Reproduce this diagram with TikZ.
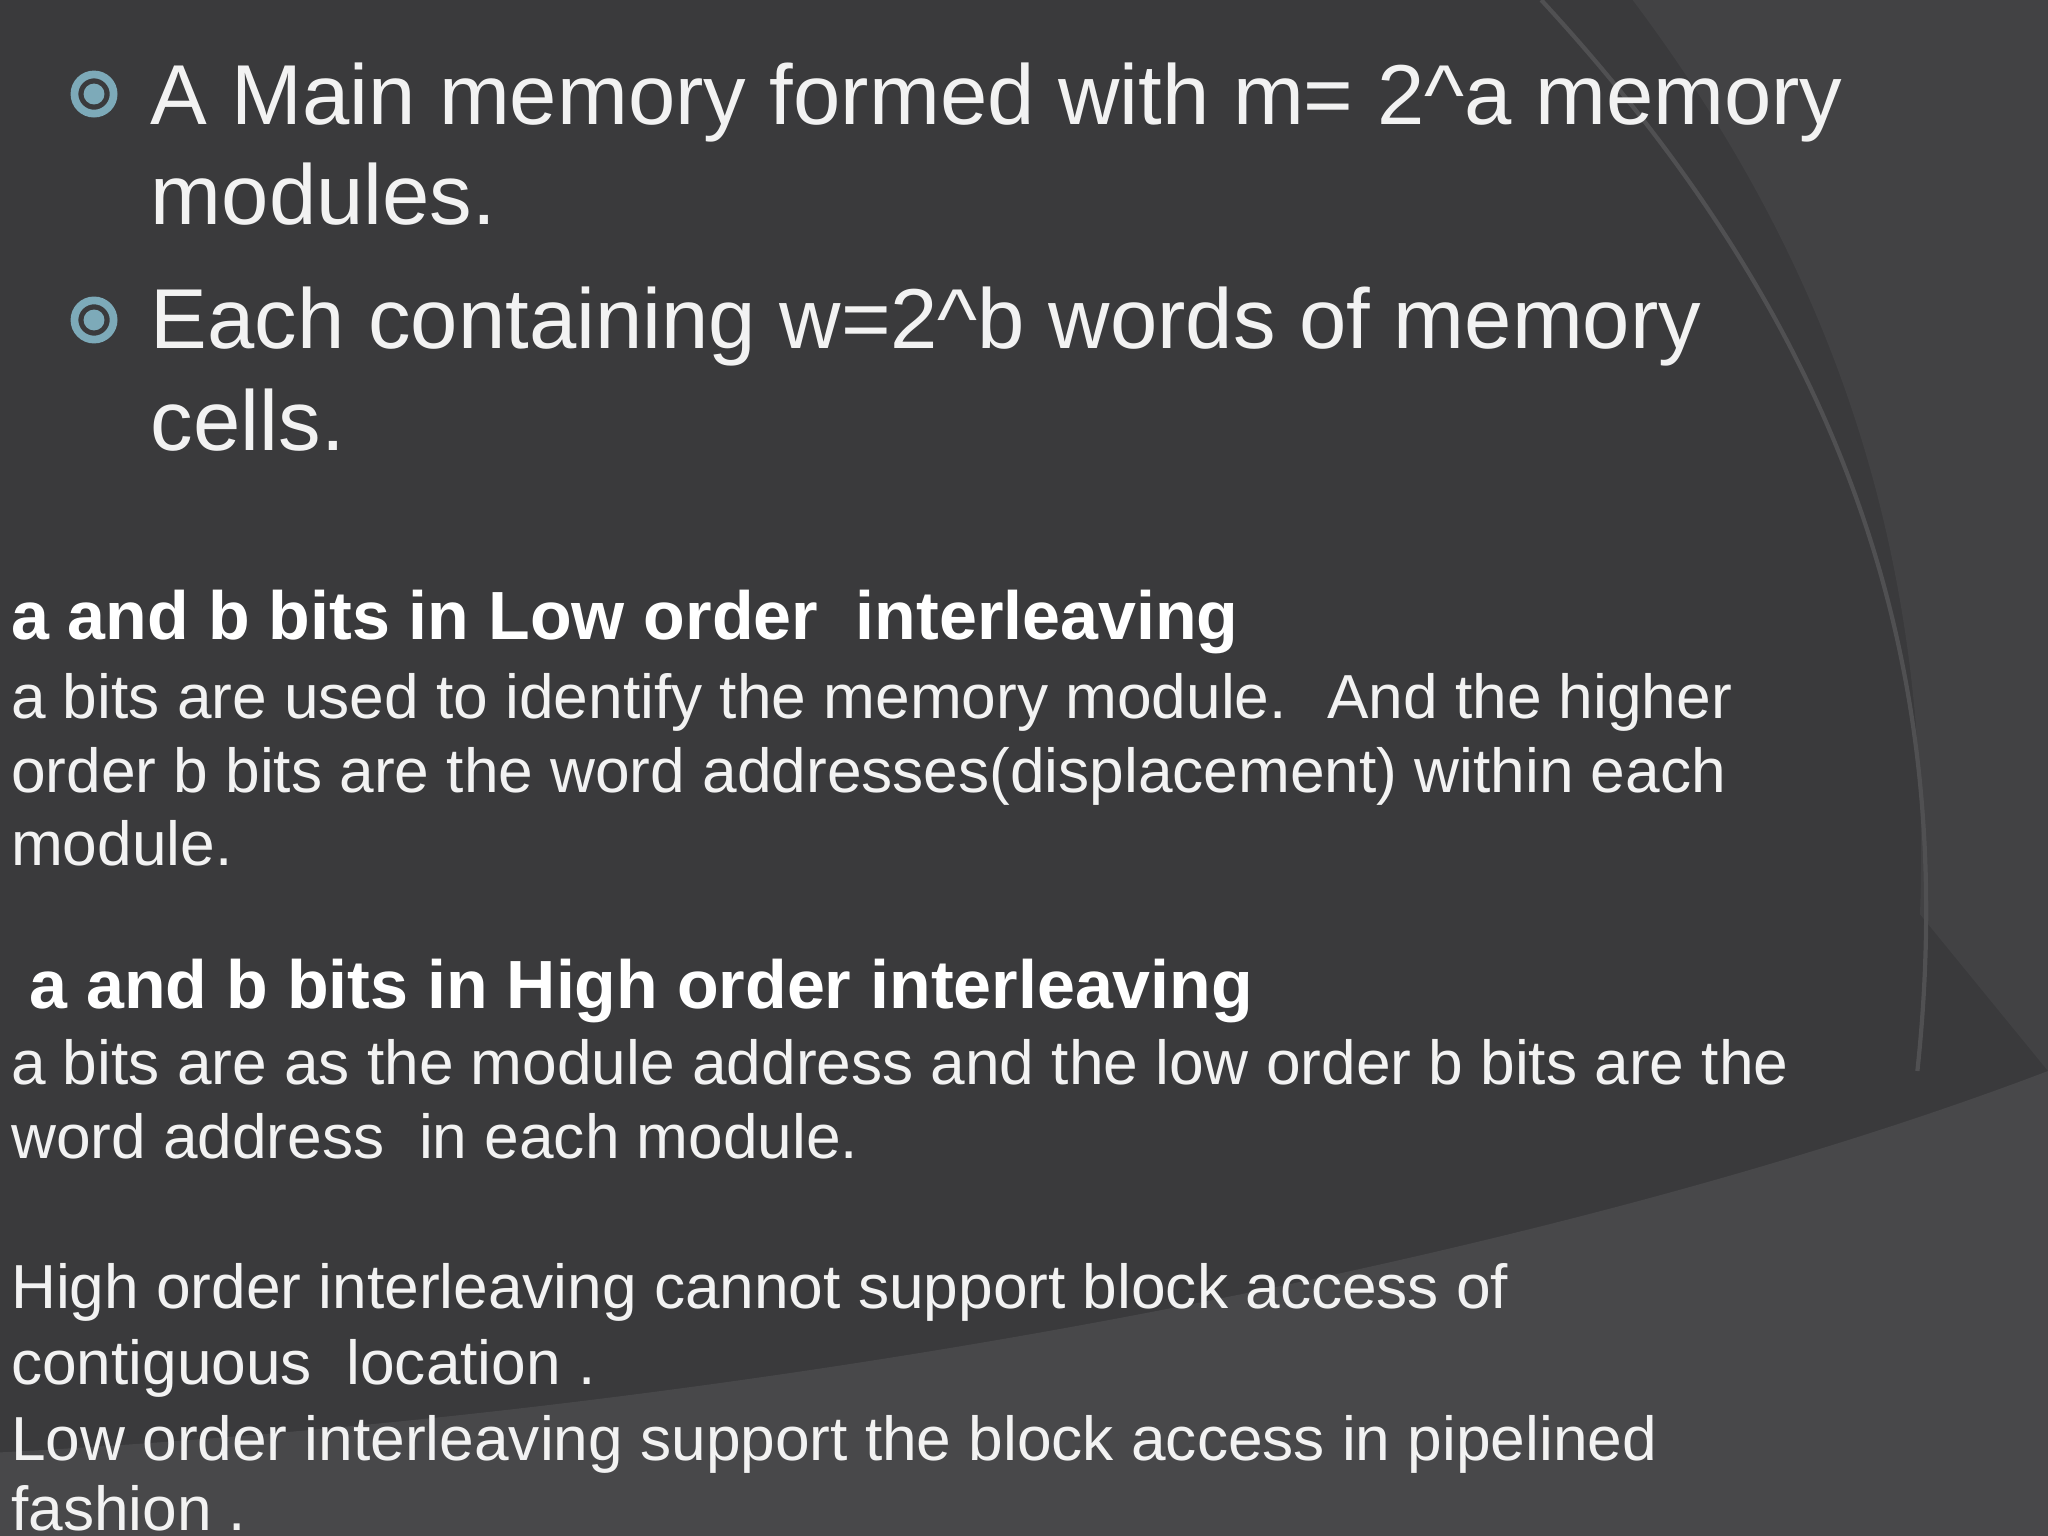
\documentclass[tikz,border=0pt]{standalone}
\usepackage{fontspec}
\setmainfont{Liberation Sans}
\definecolor{bgA}{RGB}{58,58,60}
\definecolor{bgB}{RGB}{66,66,68}
\definecolor{bgC}{RGB}{80,80,82}
\definecolor{bgD}{RGB}{72,72,74}
\definecolor{teal}{RGB}{125,170,185}
\definecolor{txt}{RGB}{242,242,242}
\begin{document}
\begin{tikzpicture}[x=0.013061cm,y=-0.013061cm,
  big/.style={anchor=base west,inner sep=0,text=txt,font=\fontsize{24.2}{29}\selectfont},
  body/.style={anchor=base west,inner sep=0,text=txt,font=\fontsize{17.7}{20}\selectfont},
  head/.style={anchor=base west,inner sep=0,text=white,font=\fontsize{19.4}{22}\selectfont\bfseries}]
\useasboundingbox (0,0) rectangle (1568,1176);
\begin{scope}
\clip (0,0) rectangle (1568,1176);
\fill[bgA] (0,0) rectangle (1568,1176);
\fill[bgB] (1250,0) .. controls (1400,200) and (1480,420) .. (1470,700) -- (1568,820) -- (1568,0) -- cycle;
\draw[line width=1.2pt,bgC] (1180,0) .. controls (1420,260) and (1500,520) .. (1468,820);
\fill[bgD] (0,1112) .. controls (600,1080) and (1200,960) .. (1568,820) -- (1568,1176) -- (0,1176) -- cycle;
\node[big] (l1) at (115,95) {A Main memory formed with m= 2\^{}a memory};
\node[big] (l2) at (115,172) {modules.};
\node[big] (l3) at (115,267) {Each containing w=2\^{}b words of memory};
\node[big] (l4) at (115,345) {cells.};
\foreach \yy in {72,245}{
  \draw[line width=2.2pt,teal] (72,\yy) circle[radius=15];
  \fill[teal] (72,\yy) circle[radius=8];
}
\node[head] (h1) at (8,490) {a and b bits in Low order \ interleaving};
\node[body] (t1) at (8,550) {a bits are used to identify the memory module. \ And the higher};
\node[body] (t2) at (8,607) {order b bits are the word addresses(displacement) within each};
\node[body] (t3) at (8,663) {module.};
\node[head] (h2) at (22,772) {a and b bits in High order interleaving};
\node[body] (t4) at (8,830) {a bits are as the module address and the low order b bits are the};
\node[body] (t5) at (8,887) {word address \ in each module.};
\node[body] (t6) at (8,1002) {High order interleaving cannot support block access of};
\node[body] (t7) at (8,1060) {contiguous \ location .};
\node[body] (t8) at (8,1118) {Low order interleaving support the block access in pipelined};
\node[body] (t9) at (8,1172) {fashion .};
\end{scope}
\end{tikzpicture}
\end{document}
